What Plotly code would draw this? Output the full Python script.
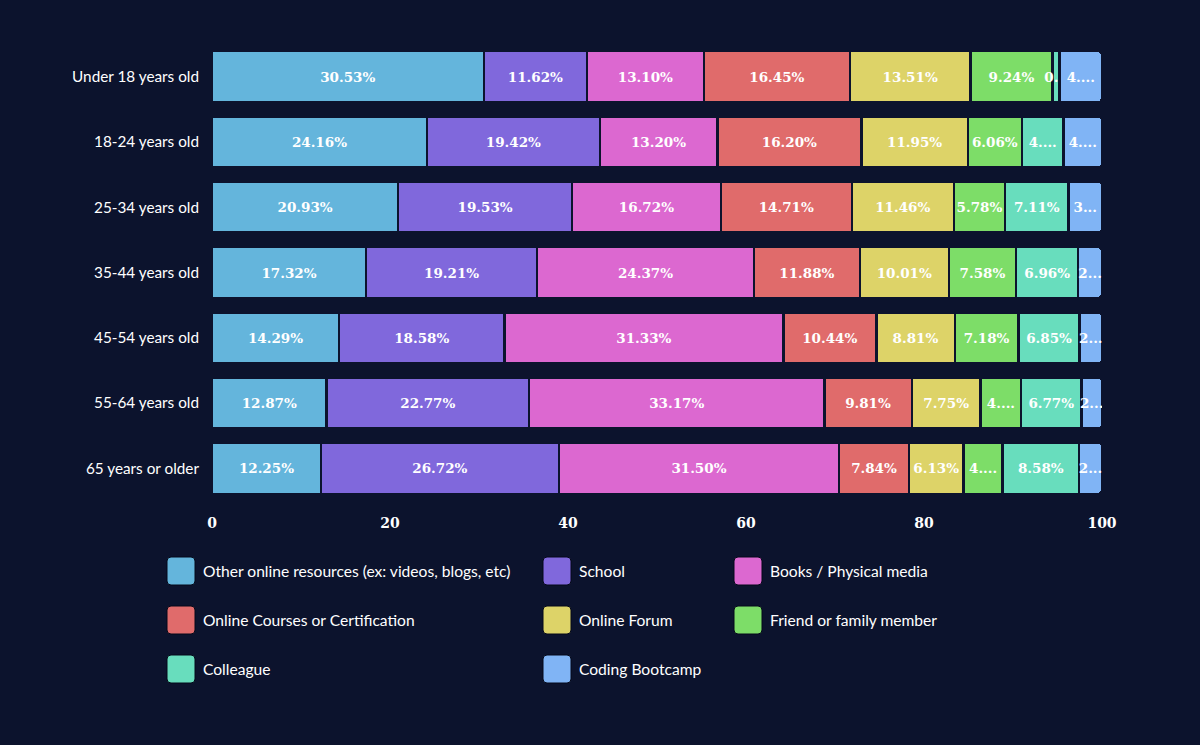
import plotly.graph_objects as go

# ---------------- data ----------------
age_groups = ["Under 18 years old", "18-24 years old", "25-34 years old", "35-44 years old",
              "45-54 years old", "55-64 years old", "65 years or older"]

series_names = ["Other online resources (ex: videos, blogs, etc)", "School", "Books / Physical media",
                "Online Courses or Certification", "Online Forum", "Friend or family member",
                "Colleague", "Coding Bootcamp"]

other_online = [30.53, 24.16, 20.93, 17.32, 14.29, 12.87, 12.25]
school = [11.62, 19.42, 19.53, 19.21, 18.58, 22.77, 26.72]
books = [13.10, 13.20, 16.72, 24.37, 31.33, 33.17, 31.50]
online_courses = [16.45, 16.20, 14.71, 11.88, 10.44, 9.81, 7.84]
online_forum = [13.51, 11.95, 11.46, 10.01, 8.81, 7.75, 6.13]
friend_family = [9.24, 6.06, 5.78, 7.58, 7.18, 4.55, 4.40]
colleague = [0.78, 4.70, 7.11, 6.96, 6.85, 6.77, 8.58]
coding_bootcamp = [4.77, 4.31, 3.76, 2.67, 2.52, 2.31, 2.58]

series_values = [other_online, school, books, online_courses, online_forum,
                 friend_family, colleague, coding_bootcamp]

colors = ["#64b5dc", "#8068dc", "#dc68d0", "#e06b6b", "#ddd368", "#7ddd68", "#68ddbd", "#80b4f5"]

x_ticks = [0, 20, 40, 60, 80, 100]

# ---------------- style ----------------
BG = "#0c132d"
W, H = 1200, 745
L, R, T, B = 212, 98, 44, 244
PW, PH = W - L - R, H - T - B


def label(v):
    s = f"{v:.2f}%"
    if v < 4:
        return s[:1] + "..."
    if v < 5:
        return s[:2] + "..."
    return s


fig = go.Figure()
for name, vals, col in zip(series_names, series_values, colors):
    fig.add_trace(go.Bar(
        y=age_groups, x=vals, name=name, orientation="h",
        marker=dict(color=col, line=dict(color=BG, width=2.4), cornerradius=4),
        text=[label(v) for v in vals],
        textposition="inside", insidetextanchor="middle", textangle=0,
        constraintext="none",
        textfont=dict(family="DejaVu Serif", size=13.5, color="white", weight="bold"),
        showlegend=False,
        hoverinfo="skip",
    ))

fig.update_layout(
    barmode="stack",
    bargap=0.22,
    width=W, height=H,
    margin=dict(l=L, r=R, t=T, b=B, pad=0),
    paper_bgcolor=BG, plot_bgcolor=BG,
    uniformtext=dict(minsize=13.5, mode="show"),
    xaxis=dict(range=[0, 100], tickvals=x_ticks, showgrid=False, zeroline=False,
               showline=False, ticks="", ticklabelstandoff=12,
               tickfont=dict(family="DejaVu Serif", size=14, color="white", weight="bold")),
    yaxis=dict(autorange="reversed", showgrid=False, zeroline=False, showline=False,
               ticks="", ticklabelstandoff=12,
               tickfont=dict(family="Lato", size=15.3, color="white")),
)

# ---------------- custom legend ----------------
def px_x(p):
    return (p - L) / PW


def px_y(p):
    return (T + PH - p) / PH


col_centers = [181, 557, 748]
row_centers = [571, 620, 669]
half, r = 14, 4
sq_path = (f"M {-half + r},{-half} L {half - r},{-half} Q {half},{-half} {half},{-half + r} "
           f"L {half},{half - r} Q {half},{half} {half - r},{half} L {-half + r},{half} "
           f"Q {-half},{half} {-half},{half - r} L {-half},{-half + r} Q {-half},{-half} {-half + r},{-half} Z")

for i, (name, col) in enumerate(zip(series_names, colors)):
    cx = col_centers[i % 3]
    cy = row_centers[i // 3]
    fig.add_shape(type="path", xref="paper", yref="paper",
                  xsizemode="pixel", ysizemode="pixel",
                  xanchor=px_x(cx), yanchor=px_y(cy), path=sq_path,
                  fillcolor=col, line=dict(color="#05091a", width=1))
    fig.add_annotation(xref="paper", yref="paper", x=px_x(cx + 20), y=px_y(cy),
                       xanchor="left", yanchor="middle", showarrow=False, text=name,
                       font=dict(family="Lato", size=15.6, color="white"))

fig.write_html("out.html", config={"displayModeBar": False},
               post_script="document.body.style.margin='0';document.body.style.background='%s';" % BG)
